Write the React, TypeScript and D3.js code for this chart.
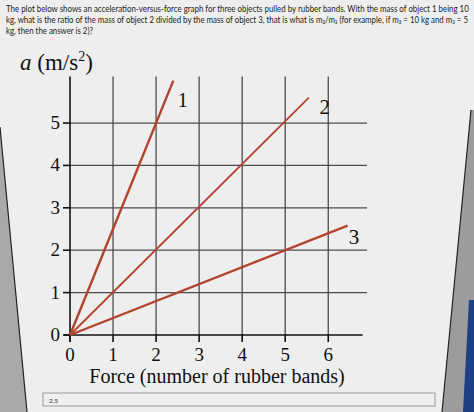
import React, { useLayoutEffect, useRef } from 'react';
import * as d3 from 'd3';

// question text (three wrapped lines as on screen)
const questionLines = [
  'The plot below shows an acceleration-versus-force graph for three objects pulled by rubber bands. With the mass of object 1 being 10',
  'kg, what is the ratio of the mass of object 2 divided by the mass of object 3, that is what is m₂/m₃ (for example, if m₂ = 10 kg and m₃ = 5',
  'kg, then the answer is 2)?',
];

const xTicks = [0, 1, 2, 3, 4, 5, 6];
const yTicks = [0, 1, 2, 3, 4, 5];
const xGrid = [1, 2, 3, 4, 5, 6];
const yGrid = [1, 2, 3, 4, 5];

// each object: straight line from the origin to its end point
const seriesNames = ['1', '2', '3'];
const seriesForce = [
  [0, 2.4],
  [0, 5.55],
  [0, 6.45],
];
const seriesAccel = [
  [0, 6.0],
  [0, 5.6],
  [0, 2.58],
];
// where the object number is written (data units)
const labelForce = [2.62, 5.92, 6.6];
const labelAccel = [5.55, 5.38, 2.3];

const answerText = '2.5';

const W = 474;
const H = 412;

const App: React.FC = () => {
  const textRef = useRef<SVGGElement>(null);

  const x = d3.scaleLinear().domain([0, 6.9]).range([70, 367]);
  const y = d3.scaleLinear().domain([0, 6.1]).range([335, 76.4]);

  const line = d3
    .line<[number, number]>()
    .x(d => x(d[0]))
    .y(d => y(d[1]));

  const serif = '"Liberation Serif", "DejaVu Serif", serif';
  const red = '#b2432c';
  const lineWidths = [2.4, 1.8, 2.4];

  // squeeze the question lines horizontally so the long ones fill 462px
  useLayoutEffect(() => {
    if (!textRef.current) return;
    const nodes = d3.select(textRef.current).selectAll<SVGTextElement, unknown>('text').nodes();
    let sx = 1;
    nodes.forEach((n, i) => {
      const len = n.getComputedTextLength();
      if (i < 2) sx = Math.min(1, 462 / len);
      n.setAttribute('transform', `translate(6, ${12 + i * 11}) scale(${sx}, 1)`);
    });
  }, []);

  return (
    <svg
      width={W}
      height={H}
      style={{ position: 'absolute', left: 0, top: 0, display: 'block' }}
    >
      <rect x={0} y={0} width={W} height={H} fill="#eeeeee" />
      {/* screen edges of the photo */}
      <polygon points={`0,127 27,${H} 0,${H}`} fill="#a9a9a9" />
      <line x1={0} y1={127} x2={27} y2={H} stroke="#222" strokeWidth={1.2} />
      <polygon points={`471,110 474,110 474,${H} 442,${H}`} fill="#9c9c9c" />
      <polygon points={`469,300 474,300 474,${H} 463,${H}`} fill="#1d3f86" />
      <line x1={471} y1={110} x2={442} y2={H} stroke="#222" strokeWidth={1.2} />

      {/* question */}
      <g ref={textRef} fontFamily="Lato, 'Open Sans', sans-serif" fontSize={8.8} fill="#222">
        {questionLines.map((t, i) => (
          <text key={i} transform={`translate(6, ${12 + i * 11}) scale(0.82, 1)`}>
            {t}
          </text>
        ))}
      </g>

      {/* grid */}
      <g stroke="#4d4d4d" strokeWidth={1.3}>
        {xGrid.map(v => (
          <line key={'gx' + v} x1={x(v)} x2={x(v)} y1={y(0)} y2={y(6.1)} />
        ))}
        {yGrid.map(v => (
          <line key={'gy' + v} x1={x(0)} x2={x(6.9)} y1={y(v)} y2={y(v)} />
        ))}
      </g>

      {/* axes */}
      <g stroke="#111" strokeWidth={1.6}>
        <line x1={x(0)} x2={x(0)} y1={y(0) + 7} y2={y(6.1)} />
        <line x1={x(0) - 6} x2={x(6.8)} y1={y(0)} y2={y(0)} />
        {yTicks.map(v => (
          <line key={'ty' + v} x1={x(0) - 7} x2={x(0)} y1={y(v)} y2={y(v)} />
        ))}
        {xTicks.map(v => (
          <line key={'tx' + v} x1={x(v)} x2={x(v)} y1={y(0)} y2={y(0) + 7} />
        ))}
      </g>

      <g fontFamily={serif} fontSize={19} fill="#111">
        {yTicks.map(v => (
          <text key={'ly' + v} x={x(0) - 10} y={y(v) + 6} textAnchor="end">
            {v}
          </text>
        ))}
        {xTicks.map(v => (
          <text key={'lx' + v} x={x(v)} y={y(0) + 26} textAnchor="middle">
            {v}
          </text>
        ))}
      </g>

      {/* data lines */}
      {seriesNames.map((name, i) => (
        <g key={name}>
          <path
            d={
              line(
                seriesForce[i].map((f, j) => [f, seriesAccel[i][j]] as [number, number])
              ) || ''
            }
            fill="none"
            stroke={red}
            strokeWidth={lineWidths[i]}
          />
          <text
            x={x(labelForce[i])}
            y={y(labelAccel[i]) + 7}
            textAnchor="middle"
            fontFamily={serif}
            fontSize={21}
            fill="#111"
          >
            {name}
          </text>
        </g>
      ))}

      {/* axis titles */}
      <text x={20} y={70} fontFamily={serif} fontSize={23} fill="#111">
        <tspan fontStyle="italic">a</tspan> (m/s
        <tspan dy={-9} fontSize={14}>2</tspan>
        <tspan dy={9}>)</tspan>
      </text>
      <text
        x={217}
        y={383}
        textAnchor="middle"
        fontFamily={serif}
        fontSize={20}
        fill="#111"
      >
        Force (number of rubber bands)
      </text>

      {/* answer box */}
      <rect x={43} y={393} width={392} height={13} fill="#efefef" stroke="#9a9a9a" strokeWidth={1} />
      <text x={49} y={403} fontFamily="Lato, sans-serif" fontSize={6.5} fill="#333">
        {answerText}
      </text>
    </svg>
  );
};

export default App;
